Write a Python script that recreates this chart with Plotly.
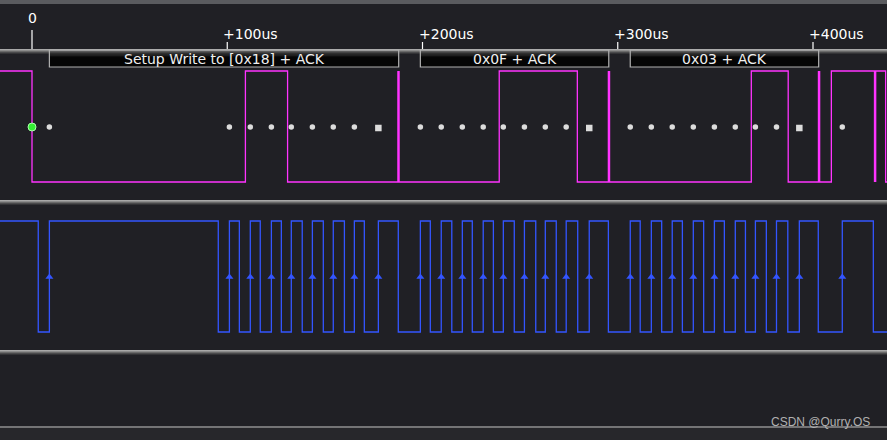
import plotly.graph_objects as go

# ---- data (times in microseconds) ----
sda_start_level = 1
sda_edges = [0.0, 109.3, 130.9, 239.3, 279.3, 368.4, 387.3, 409.4, 437.2]
sda_spikes = [187.7, 295.5, 403.1, 431.8]

scl_start_level = 1
scl_edges = [3.2, 8.9, 95.4, 101.1, 106.2, 111.8, 116.9, 122.6, 127.7, 132.8, 138.4, 143.6,
             149.2, 154.3, 160.0, 165.1, 170.2, 177.4, 187.6, 198.9, 204.0, 209.6, 215.0,
             220.4, 225.5, 231.1, 236.3, 241.4, 247.0, 252.2, 258.0, 262.9, 268.5, 273.6,
             279.5, 285.4, 295.2, 306.4, 311.5, 317.2, 322.5, 327.9, 333.1, 338.7, 344.0,
             349.5, 354.6, 360.2, 365.4, 370.5, 376.1, 381.3, 387.1, 393.0, 402.7, 415.0, 430.9]

bit_times = [8.9, 101.1, 111.8, 122.6, 132.8, 143.6, 154.3, 165.1, 177.4,
             198.9, 209.6, 220.4, 231.1, 241.4, 252.2, 262.9, 273.6, 285.4,
             306.4, 317.2, 327.9, 338.7, 349.5, 360.2, 370.5, 381.3, 393.0, 415.0]
bit_kinds = ["d"] * 8 + ["a"] + ["d"] * 8 + ["a"] + ["d"] * 8 + ["a"] + ["d"]
start_time = 0.0

frame_starts = [8.9, 198.9, 306.4]
frame_ends = [187.8, 295.4, 402.9]
frame_labels = ["Setup Write to [0x18] + ACK", "0x0F + ACK", "0x03 + ACK"]

tick_times = [0, 100, 200, 300, 400]
tick_labels = ["0", "+100us", "+200us", "+300us", "+400us"]

X0, X1 = -16.39, 437.9

def step(start, edges):
    xs, ys = [X0], [start]
    lvl = start
    for t in edges:
        lvl = 1 - lvl
        xs.append(t); ys.append(lvl)
    xs.append(X1); ys.append(lvl)
    return xs, ys

def to_px(levels, hi, lo):
    return [hi if v else lo for v in levels]

BG = "#202025"
fig = go.Figure()

# SDA
xs, ys = step(sda_start_level, sda_edges)
fig.add_trace(go.Scatter(x=xs, y=to_px(ys, 71, 182), mode="lines", line=dict(color="#ff33ff", width=1.3, shape="hv"), hoverinfo="skip"))
for t in sda_spikes:
    fig.add_trace(go.Scatter(x=[t, t], y=[71, 182], mode="lines", line=dict(color="#ff33ff", width=2.5), hoverinfo="skip"))

# SCL
xs, ys = step(scl_start_level, scl_edges)
fig.add_trace(go.Scatter(x=xs, y=to_px(ys, 221, 332), mode="lines", line=dict(color="#3355ff", width=1.3, shape="hv"), hoverinfo="skip"))
rising = [t for i, t in enumerate(scl_edges) if i % 2 == 1]
fig.add_trace(go.Scatter(x=rising, y=[277] * len(rising), mode="markers",
                         marker=dict(symbol="triangle-up", size=7, color="#3355ff"), hoverinfo="skip"))

# bit markers
dt = [t for t, k in zip(bit_times, bit_kinds) if k == "d"]
at = [t for t, k in zip(bit_times, bit_kinds) if k == "a"]
fig.add_trace(go.Scatter(x=dt, y=[127] * len(dt), mode="markers", marker=dict(symbol="circle", size=5.5, color="#dcdcdc"), hoverinfo="skip"))
fig.add_trace(go.Scatter(x=at, y=[128] * len(at), mode="markers", marker=dict(symbol="square", size=6.5, color="#dcdcdc"), hoverinfo="skip"))
fig.add_trace(go.Scatter(x=[start_time], y=[127], mode="markers", marker=dict(symbol="circle", size=8, color="#33ee33", line=dict(color="#aaffaa", width=1)), hoverinfo="skip"))

shapes = []
shapes.append(dict(type="rect", xref="paper", yref="y", x0=0, x1=1, y0=0, y1=4, fillcolor="#5a5b5f", line_width=0, layer="below"))
grad = ["#a8a8a8", "#8c8c8c", "#6a6a6a", "#4a4a4c", "#333336"]
for y0 in [49, 200, 350]:
    for i, c in enumerate(grad):
        shapes.append(dict(type="rect", xref="paper", yref="y", x0=0, x1=1, y0=y0 + i, y1=y0 + i + 1, fillcolor=c, line_width=0, layer="below"))
shapes.append(dict(type="line", xref="paper", yref="y", x0=0, x1=1, y0=427, y1=427, line=dict(color="#c8c8c8", width=1.2)))
shapes.append(dict(type="rect", xref="paper", yref="y", x0=0, x1=1, y0=428, y1=440, fillcolor="#27272b", line_width=0, layer="below"))

fgrad = ["#8a8a8a", "#6e6e6e", "#505050", "#353535", "#1e1e1e", "#0e0e0e"]
for s, e in zip(frame_starts, frame_ends):
    shapes.append(dict(type="rect", x0=s, x1=e, y0=50, y1=67, fillcolor="#050505", line=dict(width=0)))
    for i, c in enumerate(fgrad):
        shapes.append(dict(type="rect", x0=s, x1=e, y0=50 + i * 1.2, y1=51.2 + i * 1.2, fillcolor=c, line_width=0))
    shapes.append(dict(type="rect", x0=s, x1=e, y0=50, y1=67, line=dict(color="#b0b0b0", width=1.2)))

annotations = []
for s, e, lab in zip(frame_starts, frame_ends, frame_labels):
    annotations.append(dict(x=(s + e) / 2, y=59, text=lab, showarrow=False, font=dict(color="#f0f0f0", size=14, family="DejaVu Sans")))

for t, lab in zip(tick_times, tick_labels):
    if t == 0:
        shapes.append(dict(type="line", x0=t, x1=t, y0=30, y1=49, line=dict(color="#ffffff", width=1.2)))
        annotations.append(dict(x=t, y=18, text=lab, showarrow=False, font=dict(color="#ffffff", size=14, family="DejaVu Sans")))
    else:
        shapes.append(dict(type="line", x0=t, x1=t, y0=42, y1=49, line=dict(color="#ffffff", width=1.2)))
        annotations.append(dict(x=t, y=34, text=lab, showarrow=False, xanchor="left", xshift=-6,
                                font=dict(color="#ffffff", size=14, family="DejaVu Sans")))

annotations.append(dict(xref="paper", yref="y", x=0.983, y=422, xanchor="right", text="CSDN @Qurry.OS",
                        showarrow=False, font=dict(color="#b0b0b0", size=12, family="Liberation Sans")))

fig.update_layout(
    width=887, height=440, margin=dict(l=0, r=0, t=0, b=0),
    paper_bgcolor=BG, plot_bgcolor=BG, showlegend=False,
    xaxis=dict(range=[X0, X1], visible=False, fixedrange=True),
    yaxis=dict(range=[440, 0], visible=False, fixedrange=True),
    shapes=shapes, annotations=annotations,
)
fig.write_html("out.html", config={"displayModeBar": False})
with open("out.html", encoding="utf-8") as f:
    html = f.read()
html = html.replace("<head>", "<head><style>html,body{margin:0;padding:0;overflow:hidden;background:#202025}</style>", 1)
with open("out.html", "w", encoding="utf-8") as f:
    f.write(html)
